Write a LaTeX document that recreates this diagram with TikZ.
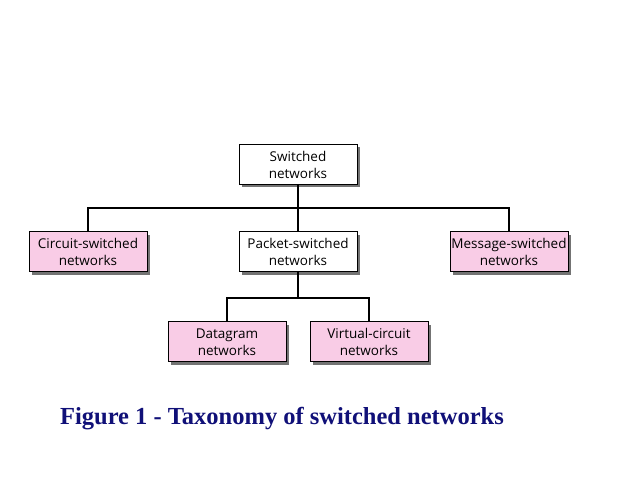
\documentclass[tikz,border=0pt]{standalone}
\usepackage{fontspec}
\setmainfont{Liberation Serif}
\newfontfamily\boxfont{Open Sans}
\usetikzlibrary{positioning,shadows}
\definecolor{boxpink}{RGB}{249,204,230}
\definecolor{capblue}{RGB}{16,16,120}
\tikzset{
  net/.style={draw, line width=1pt, fill=white, minimum width=118pt, minimum height=40pt,
    align=center, inner sep=1pt, font=\boxfont\fontsize{13.5}{17}\selectfont,
    drop shadow={shadow xshift=3pt, shadow yshift=-3pt, fill=black!55, opacity=1}},
  leaf/.style={net, fill=boxpink},
  link/.style={line width=1.3pt}
}
\begin{document}
\begin{tikzpicture}[x=1pt,y=-1pt]
    \useasboundingbox (0,0) rectangle (638,478);
    \node[net]  (sw) at (298,164.5) {Switched\\networks};
    \node[leaf] (cs) at (88,252)    {Circuit-switched\\networks};
    \node[net]  (ps) at (298,252)   {Packet-switched\\networks};
    \node[leaf] (ms) at (509,252)   {Message-switched\\networks};
    \node[leaf] (dg) at (227,342)   {Datagram\\networks};
    \node[leaf] (vc) at (369,342)   {Virtual-circuit\\networks};

    \coordinate (bar1) at (298,208);
    \coordinate (bar2) at (298,298);

    \draw[link] (sw) -- (ps);
    \draw[link] (cs.north) |- (bar1) -| (ms.north);
    \draw[link] (ps) -- (bar2);
    \draw[link] (dg.north) |- (bar2) -| (vc.north);

    \node[font=\bfseries\fontsize{24.5}{28}\selectfont, text=capblue] (cap) at (282,419)
      {Figure 1 - Taxonomy of switched networks};
\end{tikzpicture}
\end{document}
